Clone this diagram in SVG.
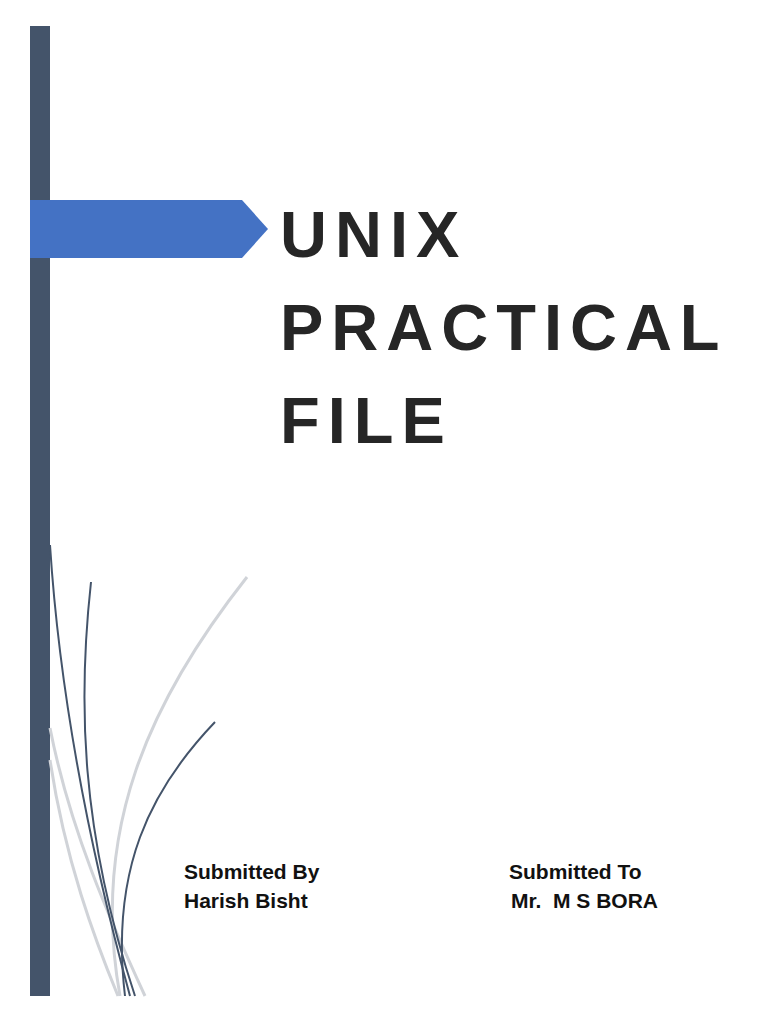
<svg xmlns="http://www.w3.org/2000/svg" width="768" height="1024" viewBox="0 0 768 1024">
<style>
.t{font-family:"Liberation Sans",Arial,sans-serif;font-weight:bold;fill:#262626;font-size:65px;letter-spacing:8px}
.s{font-family:"Liberation Sans",Arial,sans-serif;font-weight:bold;fill:#111;font-size:21px}
.d{fill:none;stroke:#44546A;stroke-width:2}
.l{fill:none;stroke:#D0D3D8;stroke-width:3}
</style>
<rect width="768" height="1024" fill="#fff"/>
<rect x="30" y="26" width="20" height="970" fill="#44546A"/>
<g id="curves">
<path class="l" d="M247,577 C150,700 90,830 120,996"/>
<path class="l" d="M50,728 C70,830 110,920 145,996"/>
<path class="l" d="M50,760 C65,860 95,940 118,996"/>
<path class="d" d="M50,545 C60,700 90,850 130,996"/>
<path class="d" stroke-width="1.5" d="M91,582 C78,700 80,830 135,996"/>
<path class="d" stroke-width="1.5" d="M215,722 C150,790 110,870 125,996"/>
</g>
<polygon id="arrow" points="30,200 242,200 268,229 242,258 30,258" fill="#4472C4"/>
<g id="title">
<text class="t" x="280" y="257">UNIX</text>
<text class="t" x="280" y="350">PRACTICAL</text>
<text class="t" x="280" y="443">FILE</text>
</g>
<g id="by">
<text class="s" x="184" y="879">Submitted By</text>
<text class="s" x="184" y="908">Harish Bisht</text>
</g>
<g id="to">
<text class="s" x="509" y="879">Submitted To</text>
<text class="s" x="511" y="908" xml:space="preserve">Mr.  M S BORA</text>
</g>
</svg>
